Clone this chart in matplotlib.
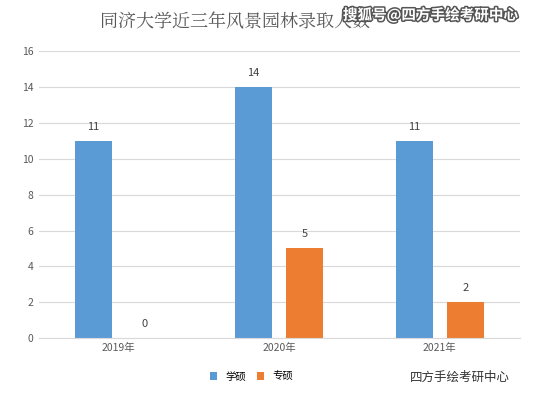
import matplotlib
matplotlib.use("Agg")
import matplotlib.pyplot as plt
import matplotlib.patheffects as pe
import numpy as np

plt.rcParams['font.family'] = ['Noto Sans CJK SC', 'DejaVu Sans']

years = ['2019年', '2020年', '2021年']
xueshuo = [11, 14, 11]
zhuanshuo = [0, 5, 2]
yticks = [0, 2, 4, 6, 8, 10, 12, 14, 16]

fig = plt.figure(figsize=(5.35, 4.01), dpi=100)
ax = fig.add_axes([0.072, 0.157, 0.9, 0.715])
x = np.arange(len(years))
w = 0.23
b1 = ax.bar(x - 0.16, xueshuo, w, color='#5B9BD5', label='学硕')
b2 = ax.bar(x + 0.16, zhuanshuo, w, color='#ED7D31', label='专硕')
for bars in (b1, b2):
    for r in bars:
        ax.text(r.get_x() + r.get_width() / 2, r.get_height() + 0.5, f'{int(r.get_height())}',
                ha='center', va='bottom', fontsize=8, color='#404040')
ax.set_ylim(0, 16)
ax.set_xlim(-0.5, 2.5)
ax.set_yticks(yticks)
ax.set_xticks(x)
ax.set_xticklabels(years)
ax.tick_params(length=0, labelsize=7.5, colors='#595959')
ax.yaxis.grid(True, color='#D9D9D9', linewidth=0.8)
ax.set_axisbelow(True)
for s in ['top', 'right', 'left']:
    ax.spines[s].set_visible(False)
ax.spines['bottom'].set_color('#D9D9D9')
fig.text(0.44, 0.945, '同济大学近三年风景园林录取人数', ha='center', va='center',
         fontsize=13, color='#595959', family=['Noto Serif CJK SC', 'Noto Sans CJK SC'])
fig.text(0.805, 0.962, '搜狐号@四方手绘考研中心', ha='center', va='center', fontsize=10.5,
         color='white', fontweight='bold',
         path_effects=[pe.withStroke(linewidth=2.2, foreground='#555555')])
fig.legend(loc='lower center', bbox_to_anchor=(0.47, 0.025), ncol=2, frameon=False,
           fontsize=7.5, handlelength=0.7, handleheight=0.7, columnspacing=1.0)
fig.text(0.86, 0.06, '四方手绘考研中心', ha='center', va='center', fontsize=9, color='#333333')
fig.savefig('out.png', dpi=100, facecolor='white')
